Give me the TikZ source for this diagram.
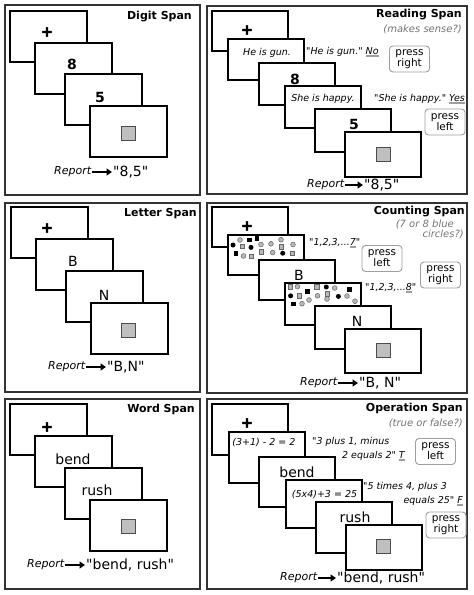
\documentclass[tikz,border=0pt]{standalone}
\usepackage{fontspec}
\newfontfamily\cfont{DejaVu Sans}[ItalicFont={DejaVu Sans Oblique},BoldFont={DejaVu Sans Bold},BoldItalicFont={DejaVu Sans Bold Oblique}]
\newfontfamily\crossfont{DejaVu Sans Bold}[FakeBold=2]
\usetikzlibrary{arrows.meta,calc}
\definecolor{FrameClr}{rgb}{0.2,0.2,0.2}
\definecolor{ProbeClr}{rgb}{0.75,0.75,0.75}
\definecolor{NoteClr}{rgb}{0.45,0.45,0.45}
\definecolor{KeyClr}{rgb}{0.62,0.62,0.62}
\definecolor{DotClr}{rgb}{0.72,0.72,0.72}
\newcommand{\markans}[1]{\setbox0=\hbox{#1}\rlap{\color{KeyClr}\rule[-2.4pt]{\wd0}{1.4pt}}\box0}

\tikzset{
  panel/.style={draw=FrameClr,line width=1.6pt},
  screen/.style={draw=black,fill=white,line width=1.3pt},
  probe/.style={draw=black!70,fill=ProbeClr,line width=0.8pt},
  title/.style={anchor=east,inner sep=0pt,font=\cfont\bfseries\fontsize{11}{12}\selectfont},
  note/.style={anchor=east,inner sep=0pt,text=NoteClr,font=\cfont\itshape\fontsize{10}{11}\selectfont},
  cue/.style={inner sep=0pt,font=\crossfont\fontsize{15}{15}\selectfont},
  item/.style={inner sep=0pt,font=\cfont\fontsize{14}{14}\selectfont},
  digit/.style={inner sep=0pt,font=\cfont\bfseries\fontsize{14}{14}\selectfont},
  sent/.style={inner sep=0pt,font=\cfont\itshape\fontsize{9.5}{10}\selectfont},
  said/.style={inner sep=0pt,font=\cfont\itshape\fontsize{9.5}{10}\selectfont},
  presskey/.style={draw=KeyClr,fill=white,rounded corners=3.5pt,line width=0.9pt,align=center,
    inner sep=1pt,minimum width=40pt,minimum height=26pt,font=\cfont\fontsize{10.5}{10}\selectfont},
  rep/.style={anchor=west,inner sep=1pt,font=\cfont\itshape\fontsize{11}{12}\selectfont},
  ans/.style={anchor=west,inner sep=1pt,font=\cfont\fontsize{14}{14}\selectfont},
  reparrow/.style={-{Triangle[length=5.5pt,width=7pt]},line width=1.5pt},
  gcirc/.style={draw=black!60,fill=DotClr,line width=0.5pt},
  bcirc/.style={fill=black},
  gsq/.style={draw=black!60,fill=DotClr,line width=0.5pt},
  bsq/.style={fill=black}
}

\begin{document}
\begin{tikzpicture}[x=1pt,y=-1pt]
\useasboundingbox (0,0) rectangle (474,595);

\foreach \px/\py/\pw/\ph in {5/5/195/190,207/6/260/188,5/203/195/189,207/203/260/190,5/399/195/190,207/399/260/190}
  \draw[panel] (\px,\py) rectangle ++(\pw,\ph);

\foreach \x/\y in {10/11,35/43,65/74,90/106, 11/207,36/239,66/271,91/303, 10/404,35/436,65/468,90/500}
  \filldraw[screen] (\x,\y) rectangle ++(77,51);

\foreach \x/\y/\h in {212/11/40,228/39/41,259/63/42,285/86/42,315/109/43,345/132/45,
    212/207/40,228/235/40,259/260/40,285/283/42,315/306/43,345/329/44,
    212/404/51,229/432/51,259/457/50,286/480/48,316/502/51,346/525/45}
  \filldraw[screen] (\x,\y) rectangle ++(76,\h);

\foreach \x/\y in {128.5/133,128.5/330,128.5/526.5,383.5/154,383.5/350,383.5/546}
  \filldraw[probe] (\x-7,\y-7) rectangle ++(14,14);

\foreach \x/\y in {240/240,261/244.5,271/243.8,281/239.7,293/244.5,243.5/256,272.7/252.5,
    297.4/286.7,334.7/288,309/300,317.5/295.8,327/299,347/296,302/303.7,355/301.2}
  \filldraw[gcirc] (\x,\y) circle (2.4);
\foreach \x/\y in {233/245,251/247.4,282.7/253.2, 326.3/287,290.6/295.8,338.4/296.4}
  \fill[bcirc] (\x,\y) circle (2.5);
\foreach \x/\y in {242.2/246.4,281/246.8,251.4/256,261.4/251.8,292.4/253.2,
    290/286.6,316.6/286.6,299.4/295.8,327.5/293.6}
  \filldraw[gsq] (\x-2.2,\y-2.2) rectangle ++(4.4,4.4);
\foreach \x/\y in {249.5/240,257/238.5,236/253.2, 307.4/291.7,349.2/289.3,293.4/304}
  \fill[bsq] (\x-2.4,\y-2.4) rectangle ++(4.8,4.8);

\node[title] (dsTitle) at (192,17) {Digit Span};
\node[cue] (dsFix) at (47,32) {+};
\node[digit] (ds1) at (72,64) {8};
\node[digit] (ds2) at (100,97) {5};
\node[rep] (dsRep) at (53,172) {Report};
\node[ans] (dsAns) at (112,172) {"8,5"};
\draw[reparrow] (dsRep) -- (dsAns);

\node[title] (lsTitle) at (197,214) {Letter Span};
\node[cue] (lsFix) at (47,228) {+};
\node[item] (ls1) at (73,261) {B};
\node[item] (ls2) at (104,295) {N};
\node[rep] (lsRep) at (47,367) {Report};
\node[ans] (lsAns) at (106,367) {"B,N"};
\draw[reparrow] (lsRep) -- (lsAns);

\node[title] (wsTitle) at (195,409) {Word Span};
\node[cue] (wsFix) at (47,427) {+};
\node[item] (ws1) at (73,459) {bend};
\node[item] (ws2) at (97,490) {rush};
\node[rep] (wsRep) at (26,565) {Report};
\node[ans] (wsAns) at (85,565) {"bend, rush"};
\draw[reparrow] (wsRep) -- (wsAns);

\node[title] (rsTitle) at (462,15) {Reading Span};
\node[note] (rsNote) at (462,29) {(makes sense?)};
\node[cue] (rsFix) at (247,30) {+};
\node[sent] (rs1) at (267,53) {He is gun.};
\node[digit] (rs2) at (295,79) {8};
\node[sent] (rs3) at (323,99) {She is happy.};
\node[digit] (rs4) at (354,124) {5};
\node[said,anchor=west] (rsSaid1) at (306,52) {"He is gun." \markans{No}};
\node[presskey] (rsKey1) at (409.5,59) {press\\right};
\node[said,anchor=east] (rsSaid2) at (465,99) {"She is happy." \markans{Yes}};
\node[presskey] (rsKey2) at (445,122) {press\\left};
\node[rep] (rsRep) at (306,185) {Report};
\node[ans] (rsAns) at (363,185) {"8,5"};
\draw[reparrow] (rsRep) -- (rsAns);

\node[title] (csTitle) at (465,212) {Counting Span};
\node[note] (csNote1) at (454,224) {(7 or 8 blue};
\node[note] (csNote2) at (464,234) {circles?)};
\node[cue] (csFix) at (247,226) {+};
\node[item] (cs2) at (299,275) {B};
\node[item] (cs4) at (357,321) {N};
\node[said,anchor=west] (csSaid1) at (309,243) {"1,2,3,...\markans{7}"};
\node[presskey] (csKey1) at (382,258.5) {press\\left};
\node[said,anchor=west] (csSaid2) at (365,288) {"1,2,3,...\markans{8}"};
\node[presskey] (csKey2) at (440.5,275) {press\\right};
\node[rep] (csRep) at (299,383) {Report};
\node[ans] (csAns) at (358,383) {"B, N"};
\draw[reparrow] (csRep) -- (csAns);

\node[title] (osTitle) at (463,408) {Operation Span};
\node[note] (osNote) at (463,423) {(true or false?)};
\node[cue] (osFix) at (247,423) {+};
\node[sent] (os1) at (264,443) {(3+1) - 2 = 2};
\node[item] (os2) at (297,472) {bend};
\node[sent] (os3) at (324.5,495) {(5x4)+3 = 25};
\node[item] (os4) at (355,517) {rush};
\node[said,anchor=west] (osSaid1) at (312,442) {"3 plus 1, minus};
\node[said,anchor=east] (osSaid2) at (405,456) {2 equals 2" \markans{T}};
\node[presskey] (osKey1) at (435.5,451.5) {press\\left};
\node[said,anchor=west] (osSaid3) at (363,487) {"5 times 4, plus 3};
\node[said,anchor=east] (osSaid4) at (463,501) {equals 25" \markans{F}};
\node[presskey] (osKey2) at (446,525) {press\\right};
\node[rep] (osRep) at (279,578) {Report};
\node[ans] (osAns) at (336,578) {"bend, rush"};
\draw[reparrow] (osRep) -- (osAns);

\end{tikzpicture}
\end{document}
